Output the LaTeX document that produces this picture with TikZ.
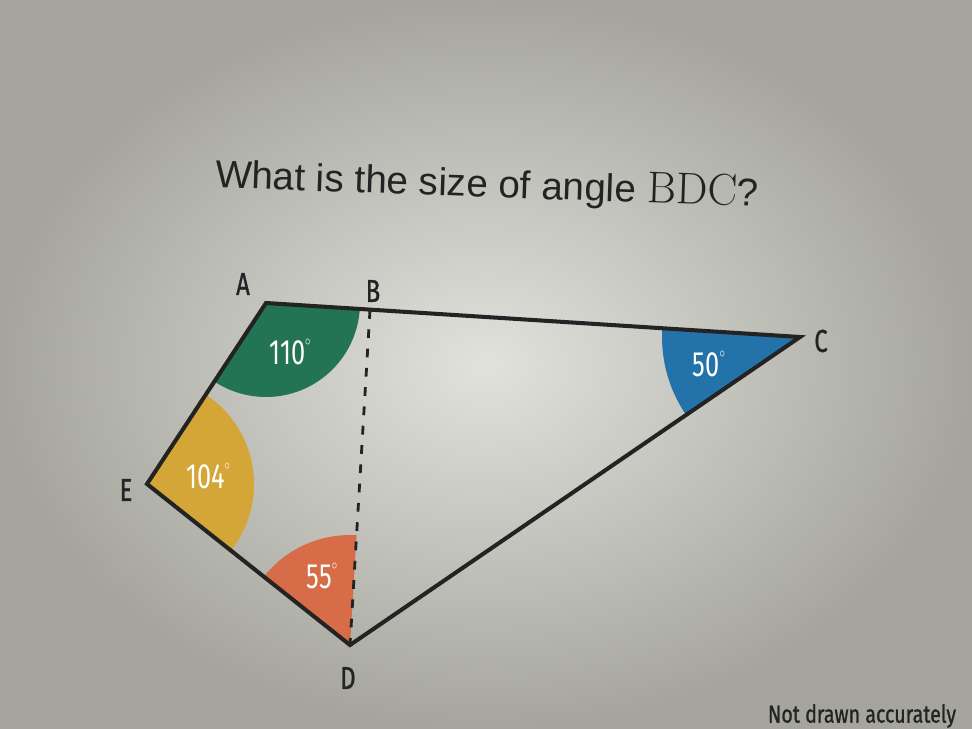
\documentclass[tikz,border=0pt]{standalone}
\usepackage[no-math]{fontspec}
\setmainfont{Liberation Sans}
\newfontfamily\labelfont[FakeBold=1.2]{Fira Sans}
\newfontfamily\valuefont{Fira Sans}
\usetikzlibrary{calc}

\definecolor{inkgray}{RGB}{35,35,35}
\definecolor{sectorgreen}{RGB}{35,115,85}
\definecolor{sectoryellow}{RGB}{212,165,55}
\definecolor{sectorred}{RGB}{215,108,72}
\definecolor{sectorblue}{RGB}{35,115,170}
\definecolor{screenlight}{RGB}{226,226,220}
\definecolor{screendark}{RGB}{165,165,158}

\newcommand{\dg}{\raisebox{0.55em}{\fontsize{8}{8}\selectfont$\circ$}}

\begin{document}
\begin{tikzpicture}[x=0.02cm, y=-0.02cm,
    edge/.style={line width=2.3pt, draw=inkgray, line join=miter},
    vertex/.style={font=\labelfont\fontsize{18}{18}\selectfont, text=inkgray, xscale=0.75},
    anglelabel/.style={font=\valuefont\fontsize{20}{20}\selectfont, text=white, xscale=0.72}]
    \useasboundingbox (0,0) rectangle (972,729);

    % Screen background
    \shade[inner color=screenlight, outer color=screendark] (0,0) rectangle (972,729);

    % Question
    \node[font=\fontsize{22}{22}\selectfont, text=inkgray, rotate=-2] (question) at (487,186)
        {What is the size of angle \scalebox{1.22}{$\mathrm{BDC}$}?};

    % Corners
    \coordinate (A) at (266,303);
    \coordinate (B) at (370,310);
    \coordinate (C) at (800,337);
    \coordinate (D) at (350,645);
    \coordinate (E) at (147,484);

    % Angle sectors, left part
    \begin{scope}
        \clip (A) -- (B) -- (D) -- (E) -- cycle;
        \fill[sectorgreen] (A) circle (1.88cm);
        \fill[sectoryellow] (E) circle (2.14cm);
        \fill[sectorred] (D) circle (2.2cm);
    \end{scope}
    % Angle sector at C
    \begin{scope}
        \clip (B) -- (C) -- (D) -- cycle;
        \fill[sectorblue] (C) circle (2.76cm);
    \end{scope}

    % Quadrilateral and triangle
    \draw[edge] (A) -- (C) -- (D) -- (E) -- cycle;
    \draw[line width=1.6pt, draw=inkgray, dash pattern=on 5pt off 6pt] (B) -- (D);

    % Vertex labels
    \node[vertex] (labA) at (243,284) {A};
    \node[vertex] (labB) at (373,291) {B};
    \node[vertex] (labC) at (821,341) {C};
    \node[vertex] (labD) at (348,678) {D};
    \node[vertex] (labE) at (126,490) {E};

    % Angle values
    \node[anglelabel] (angA) at (290,352) {110\dg};
    \node[anglelabel] (angE) at (208,476) {104\dg};
    \node[anglelabel] (angD) at (322,576) {55\dg};
    \node[anglelabel] (angC) at (709,364) {50\dg};

    % Note
    \node[font=\labelfont\fontsize{14}{14}\selectfont, text=inkgray, xscale=0.8] (note) at (862,716)
        {Not drawn accurately};
\end{tikzpicture}
\end{document}
